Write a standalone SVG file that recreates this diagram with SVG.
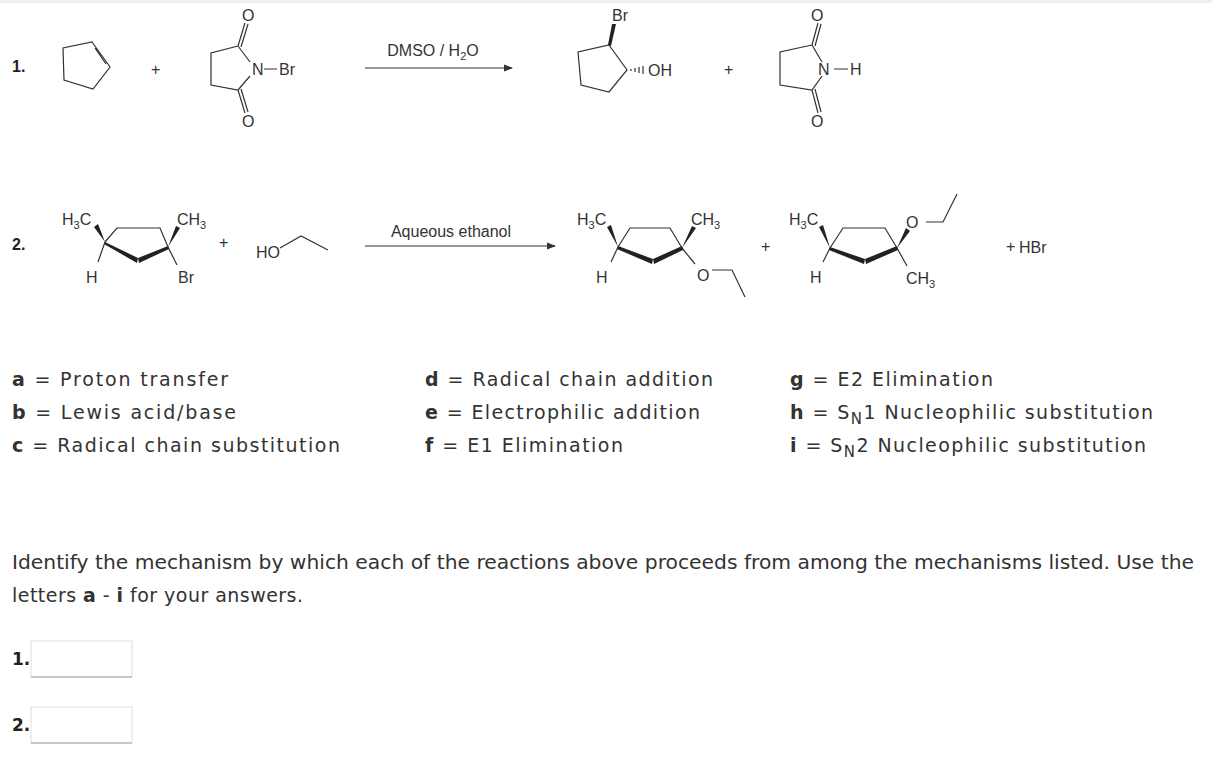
<svg xmlns="http://www.w3.org/2000/svg" width="1212" height="778" viewBox="0 0 1212 778">
<defs>
<style>
.b{stroke:#333;stroke-width:1.2;fill:none}
.w{fill:#222}
.c{font-family:"Liberation Sans",Arial,sans-serif;font-size:16px;fill:#333}
.n{font-family:"Liberation Sans",Arial,sans-serif;font-size:16px;font-weight:bold;fill:#222}
.t{font-family:"DejaVu Sans",Verdana,sans-serif;font-size:19px;fill:#333}
.box{fill:#fff;stroke:#ddd;stroke-width:1}
</style>
<marker id="ah" markerWidth="8" markerHeight="6" refX="7" refY="3" orient="auto"><path d="M0,0 L8,3 L0,6z" fill="#333"/></marker>
</defs>
<rect width="1212" height="778" fill="#fff"/>
<rect width="1212" height="3" fill="#eee"/>
<text class="n" x="12" y="72">1.</text>
<text class="n" x="12" y="250">2.</text>
<g id="cyclopentene"><path class="b" d="M92,42 L110,67 L93,89 L64,80 L63,48 Z M95,48 L106,64"/></g>
<text class="c" x="151" y="75" font-size="13">+</text>
<g id="nbs"><path class="b" d="M238,46 L250,62 M250,76 L238,90 L211,85 L211,53 L238,46 M238,46 L245,23 M241,47 L248,24 M238,90 L245,113 M241,89 L248,112 M264,69 L277,69"/>
<text class="c" x="242" y="21">O</text><text class="c" x="252" y="75">N</text><text class="c" x="279" y="75">Br</text><text class="c" x="242" y="127">O</text></g>
<g id="connectors">
<line class="b" x1="365" y1="68" x2="512" y2="68" marker-end="url(#ah)"/>
<line class="b" x1="365" y1="246" x2="555" y2="246" marker-end="url(#ah)"/>
</g>
<text class="c" x="433" y="56" text-anchor="middle">DMSO / H<tspan font-size="11" dy="4">2</tspan><tspan dy="-4">O</tspan></text>
<g id="bromohydrin"><path class="b" d="M609,45 L627,70 L609,92 L581,85 L578,52 Z"/>
<path class="w" d="M608,45 L612,24 L616,24 L611,46z"/>
<path class="b" d="M631,69 v2 M635,68 v4 M639,67 v6 M643,66 v8"/>
<text class="c" x="612" y="21">Br</text><text class="c" x="648" y="76">OH</text></g>
<text class="c" x="724" y="75" font-size="13">+</text>
<g id="succinimide"><path class="b" d="M812,45 L822,62 M822,76 L812,90 L780,85 L780,52 L812,45 M812,45 L818,23 M815,46 L821,24 M812,90 L818,113 M815,89 L821,112 M834,69 L848,69"/>
<text class="c" x="811" y="21">O</text><text class="c" x="818" y="75">N</text><text class="c" x="850" y="75">H</text><text class="c" x="811" y="127">O</text></g>
<g id="reactant2"><path class="b" d="M105,242 L117,228 L160,228 L168,247 M105,242 L98,262 M168,247 L177,265"/>
<path class="w" d="M105,242 L138,258 L137,263 L104,244z M138,258 L168,246 L169,249 L139,263z M105,242 L94,227 L98,224z M168,247 L176,226 L180,228z"/>
<text class="c" x="62" y="225">H<tspan font-size="11" dy="4">3</tspan><tspan dy="-4">C</tspan></text>
<text class="c" x="177" y="225">CH<tspan font-size="11" dy="4">3</tspan></text>
<text class="c" x="86" y="283">H</text><text class="c" x="178" y="283">Br</text></g>
<text class="c" x="219" y="248" font-size="13">+</text>
<g id="ethanol"><text class="c" x="256" y="258">HO</text><path class="b" d="M280,248 L301,236 L328,250"/></g>
<text class="c" x="451" y="237" text-anchor="middle">Aqueous ethanol</text>
<g id="product2a"><path class="b" d="M618,247 L630,228 L670,228 L682,248 M618,247 L611,262 M682,248 L695,264 M712,270 L732,270 L745,297"/>
<path class="w" d="M618,246 L653,259 L652,264 L617,249z M653,259 L682,246 L683,250 L654,264z M618,247 L607,227 L611,225z M682,248 L692,226 L696,228z"/>
<text class="c" x="577" y="225">H<tspan font-size="11" dy="4">3</tspan><tspan dy="-4">C</tspan></text>
<text class="c" x="691" y="225">CH<tspan font-size="11" dy="4">3</tspan></text>
<text class="c" x="596" y="283">H</text><text class="c" x="697" y="281">O</text></g>
<text class="c" x="761" y="252" font-size="13">+</text>
<g id="product2b"><path class="b" d="M830,248 L843,228 L885,228 L897,248 M830,248 L823,262 M897,248 L907,266 M926,222 L943,222 L957,194"/>
<path class="w" d="M830,247 L865,259 L864,264 L829,250z M865,259 L897,246 L898,250 L866,264z M830,248 L819,227 L823,225z M897,248 L906,228 L910,231z"/>
<text class="c" x="789" y="225">H<tspan font-size="11" dy="4">3</tspan><tspan dy="-4">C</tspan></text>
<text class="c" x="906" y="228">O</text>
<text class="c" x="906" y="284">CH<tspan font-size="11" dy="4">3</tspan></text>
<text class="c" x="810" y="283">H</text></g>
<text class="c" x="1006" y="252" font-size="13">+</text>
<text class="c" x="1019" y="253">HBr</text>
<g class="t">
<text x="12" y="386" textLength="216"><tspan font-weight="bold">a</tspan> = Proton transfer</text>
<text x="12" y="419" textLength="224"><tspan font-weight="bold">b</tspan> = Lewis acid/base</text>
<text x="12" y="452" textLength="328"><tspan font-weight="bold">c</tspan> = Radical chain substitution</text>
<text x="425" y="386" textLength="288"><tspan font-weight="bold">d</tspan> = Radical chain addition</text>
<text x="425" y="419" textLength="275"><tspan font-weight="bold">e</tspan> = Electrophilic addition</text>
<text x="425" y="452" textLength="198"><tspan font-weight="bold">f</tspan> = E1 Elimination</text>
<text x="790" y="386" textLength="203"><tspan font-weight="bold">g</tspan> = E2 Elimination</text>
<text x="790" y="419" textLength="363"><tspan font-weight="bold">h</tspan> = S<tspan font-size="15" dy="5">N</tspan><tspan dy="-5">1 Nucleophilic substitution</tspan></text>
<text x="790" y="452" textLength="356"><tspan font-weight="bold">i</tspan> = S<tspan font-size="15" dy="5">N</tspan><tspan dy="-5">2 Nucleophilic substitution</tspan></text>
<text x="12" y="569" textLength="1182" lengthAdjust="spacingAndGlyphs">Identify the mechanism by which each of the reactions above proceeds from among the mechanisms listed. Use the</text>
<text x="12" y="602" textLength="291">letters <tspan font-weight="bold">a</tspan> - <tspan font-weight="bold">i</tspan> for your answers.</text>
</g>
<g id="answer1"><text class="n" x="12" y="665" style="font-family:'DejaVu Sans',sans-serif;font-size:17px">1.</text><rect class="box" x="31" y="641" width="101" height="36"/><line x1="31" y1="677" x2="132" y2="677" stroke="#bbb" stroke-width="1.5"/></g>
<g id="answer2"><text class="n" x="12" y="731" style="font-family:'DejaVu Sans',sans-serif;font-size:17px">2.</text><rect class="box" x="31" y="707" width="101" height="36"/><line x1="31" y1="743" x2="132" y2="743" stroke="#bbb" stroke-width="1.5"/></g>
</svg>
